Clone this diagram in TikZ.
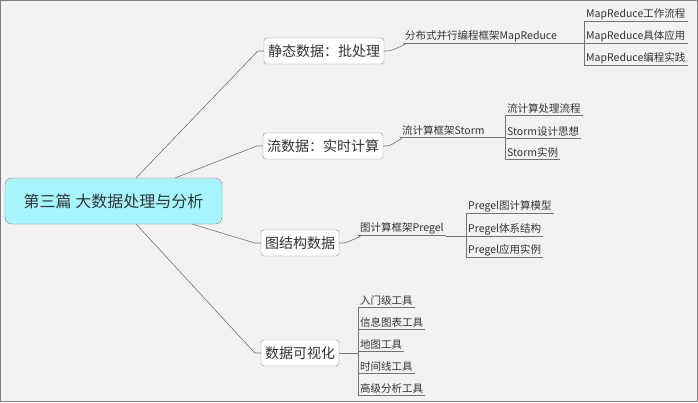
\documentclass[tikz,border=0pt]{standalone}
\usepackage{fontspec}
\setmainfont{Noto Sans CJK SC}
\begin{document}
\begin{tikzpicture}[x=1pt,y=-1pt,
  every node/.style={text=black!80},
  br/.style={draw=black!45,fill=white,rounded corners=3pt,inner xsep=4pt,inner ysep=2pt,font=\fontsize{14}{16}\selectfont,minimum height=26pt},
  lf/.style={anchor=base west,inner xsep=2pt,inner ysep=2pt,font=\fontsize{10.5}{12}\selectfont},
  ln/.style={draw=black!55,line width=0.6pt},
  ul/.style={draw=black!55,line width=0.9pt}]
\useasboundingbox (0,0) rectangle (698,402);
\fill[black!5] (0,0) rectangle (698,402);
\draw[black!50,line width=1pt] (0.5,0.5) rectangle (697.5,401.5);
\node[draw=black!50,fill=blue!10!cyan!35,rounded corners=7pt,minimum width=217pt,minimum height=46pt,font=\fontsize{16}{18}\selectfont] (root) at (113.5,201) {第三篇 大数据处理与分析};
\node[br] (b1) at (324,51) {静态数据：批处理};
\node[br] (b2) at (323,146) {流数据：实时计算};
\node[br] (b3) at (300,243) {图结构数据};
\node[br] (b4) at (300,353) {数据可视化};
\coordinate (r1) at (136,178); \coordinate (r2) at (175,178);
\coordinate (r3) at (192,224); \coordinate (r4) at (136,224);
\draw[ln] (r1) -- ([xshift=-6]b1.west) -- (b1.west);
\draw[ln] (r2) -- ([xshift=-6]b2.west) -- (b2.west);
\draw[ln] (r3) -- ([xshift=-6]b3.west) -- (b3.west);
\draw[ln] (r4) -- ([xshift=-6]b4.west) -- (b4.west);
% level 2
\node[lf] (m1) at (403,39) {分布式并行编程框架MapReduce};
\node[lf] (m2) at (400,134) {流计算框架Storm};
\node[lf] (m3) at (358,231) {图计算框架Pregel};
\foreach \n in {m1,m2,m3} \draw[ul] (\n.south west) -- (\n.south east);
\draw[ln,rounded corners=3pt] (b1.east) -- ++(6,0) -- ([xshift=4]m1.south west) -- (m1.south west);
\draw[ln,rounded corners=3pt] (b2.east) -- ++(6,0) -- ([xshift=4]m2.south west) -- (m2.south west);
\draw[ln,rounded corners=3pt] (b3.east) -- ++(6,0) -- ([xshift=4]m3.south west) -- (m3.south west);
% leaves
\node[lf] (a1) at (584,17) {MapReduce工作流程};
\node[lf] (a2) at (584,39) {MapReduce具体应用};
\node[lf] (a3) at (584,61) {MapReduce编程实践};
\node[lf] (s1) at (505,112) {流计算处理流程};
\node[lf] (s2) at (505,135) {Storm设计思想};
\node[lf] (s3) at (505,156) {Storm实例};
\node[lf] (p1) at (466,209) {Pregel图计算模型};
\node[lf] (p2) at (466,232) {Pregel体系结构};
\node[lf] (p3) at (466,253) {Pregel应用实例};
\node[lf] (v1) at (358,304) {入门级工具};
\node[lf] (v2) at (358,326) {信息图表工具};
\node[lf] (v3) at (358,348) {地图工具};
\node[lf] (v4) at (358,370) {时间线工具};
\node[lf] (v5) at (358,392) {高级分析工具};
\foreach \n in {a1,a2,a3,s1,s2,s3,p1,p2,p3,v1,v2,v3,v4,v5} \draw[ul] (\n.south west) -- (\n.south east);
\draw[ln,rounded corners=3pt] (a1.south west) -- (a3.south west);
\draw[ln] (m1.south east) -- (a2.south west);
\draw[ln,rounded corners=3pt] (s1.south west) -- (s3.south west);
\draw[ln] (m2.south east) -- (s1.south west |- m2.south east);
\draw[ln,rounded corners=3pt] (p1.south west) -- (p3.south west);
\draw[ln] (m3.south east) -- (p1.south west |- m3.south east);
\draw[ln,rounded corners=3pt] (v1.south west) -- (v5.south west);
\draw[ln] (b4.east) -- (v1.south west |- b4.east);
\end{tikzpicture}
\end{document}
